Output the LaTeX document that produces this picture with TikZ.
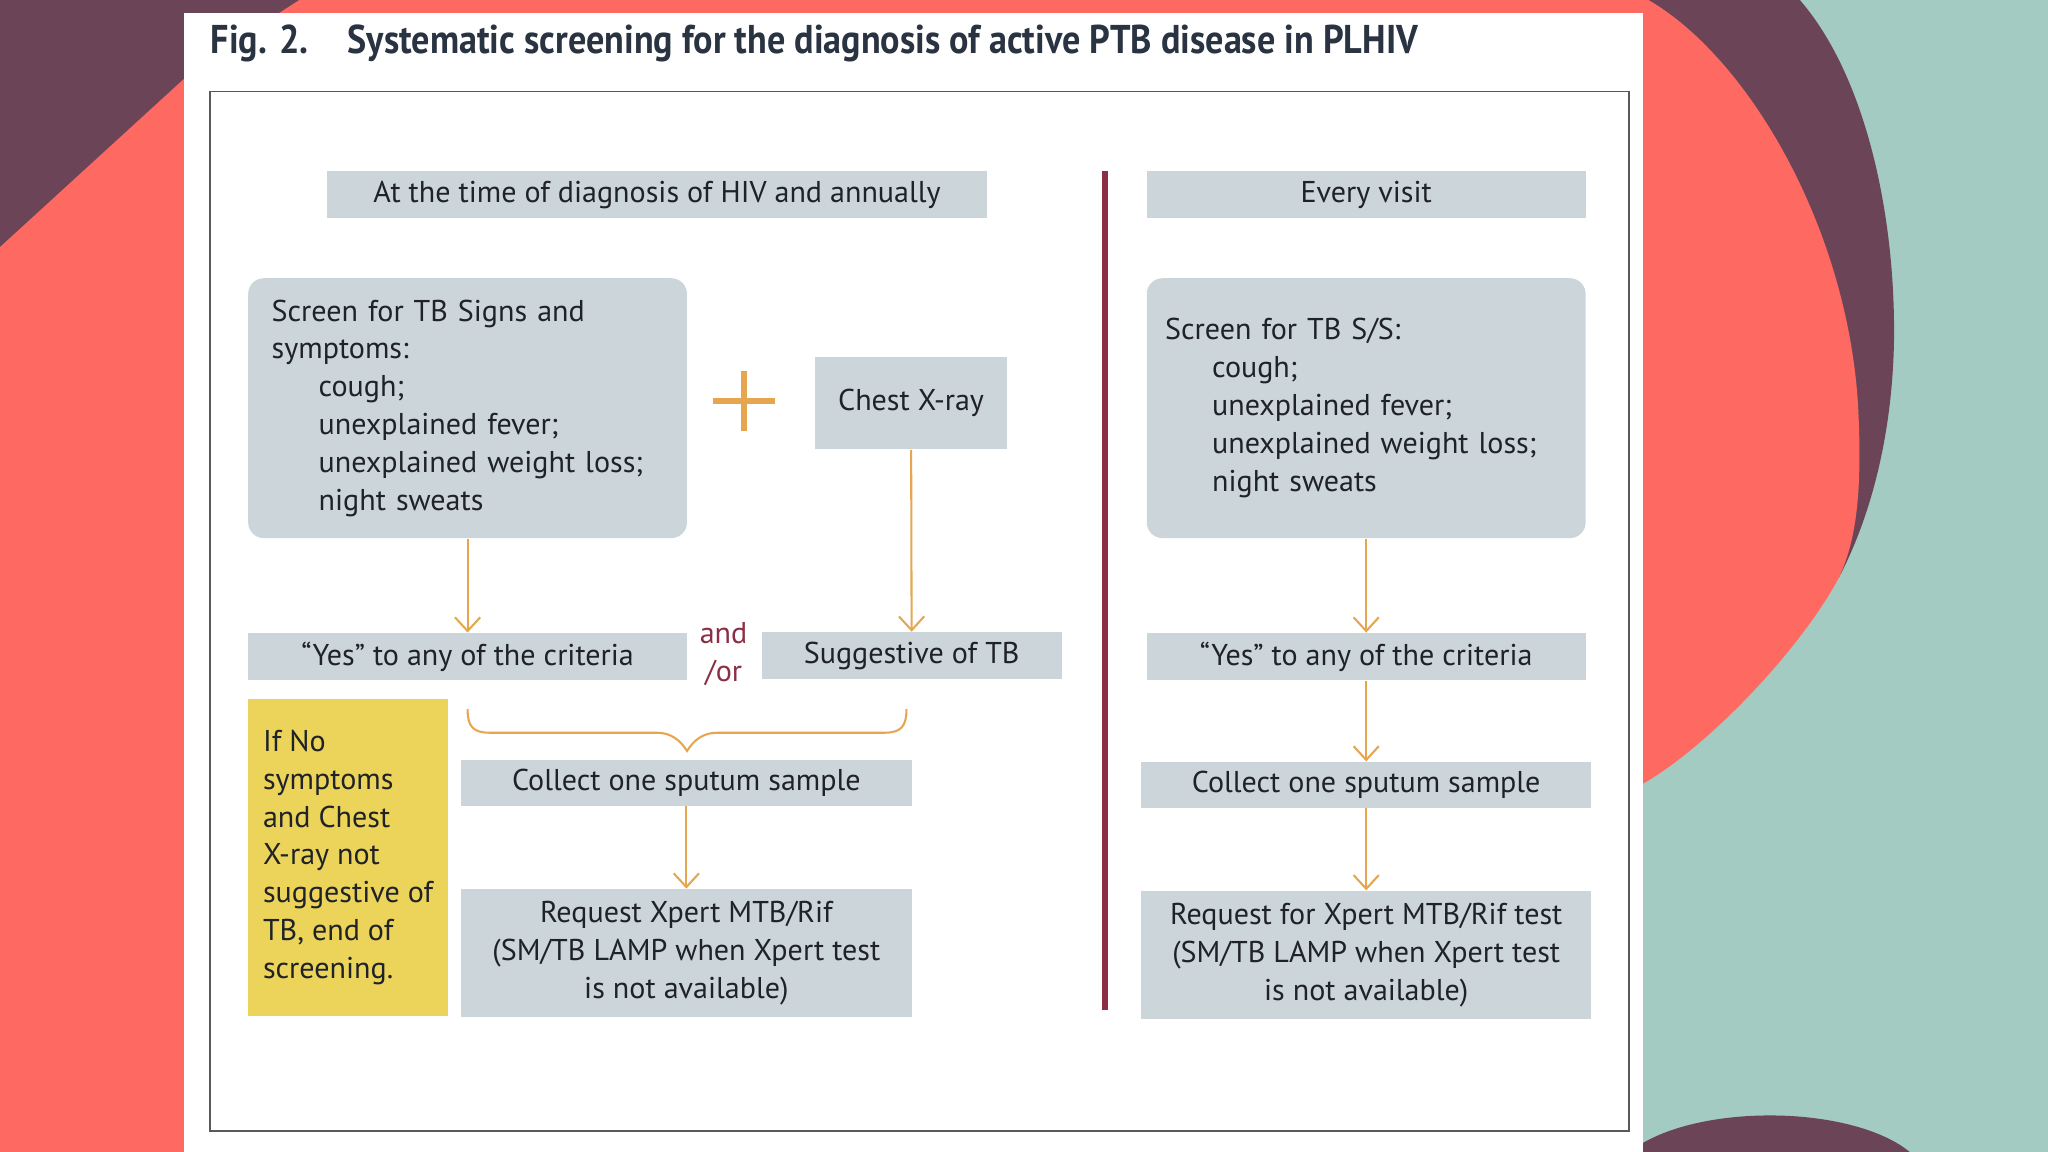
\documentclass[tikz,border=0pt]{standalone}
\usepackage{fontspec}
\setmainfont{PT Sans}
\newfontfamily\titlefont{PT Sans}[FakeStretch=0.9]
\usetikzlibrary{arrows.meta,positioning}

\definecolor{coral}{HTML}{FE6A62}
\definecolor{plum}{HTML}{6B4557}
\definecolor{sage}{HTML}{A4CBC1}
\definecolor{boxgray}{HTML}{CCD5DA}
\definecolor{amber}{HTML}{E6A650}
\definecolor{maroon}{HTML}{8C2F46}
\definecolor{mustard}{HTML}{ECD35A}
\definecolor{ink}{HTML}{1F2328}
\definecolor{navy}{HTML}{2A3342}

\begin{document}
\begin{tikzpicture}[x=0.02cm,y=-0.02cm,
  hdr/.style={fill=boxgray,inner sep=0pt,align=center,text=ink,
    font=\fontsize{13.1}{16.5}\selectfont,minimum height=0.72cm},
  screenbox/.style={hdr,rounded corners=0.24cm,align=left,
    minimum height=3.98cm},
  notebox/.style={hdr,fill=mustard,align=left,minimum width=3.06cm,
    minimum height=4.86cm},
  arr/.style={amber,line width=0.9pt,-{Straight Barb[length=6pt,width=11pt]}},
  node distance=1.44cm]
\useasboundingbox (0,0) rectangle (1568,882);

% background
\fill[sage] (0,0) rectangle (1568,882);
\fill[coral] (0,0) rectangle (1258,882);
\fill[plum] (0,0) -- (229,0) .. controls (190,25) and (160,45) .. (140,61) -- (0,189) -- cycle;
\fill[plum] (1258,0) -- (1378,0) .. controls (1430,60) and (1452,170) .. (1450,265)
  .. controls (1448,340) and (1430,400) .. (1408,442) -- (1258,442) -- cycle;
\fill[coral] (1258,0) -- (1262,0) .. controls (1340,45) and (1418,180) .. (1423,320)
  .. controls (1426,390) and (1418,420) .. (1408,442)
  .. controls (1380,495) and (1310,570) .. (1258,600) -- cycle;
\fill[plum] (1355,905) ellipse [x radius=120, y radius=51];
\fill[white] (141,10) rectangle (1258,882);
\draw[gray!70!black,line width=0.7pt] (161,70) rectangle (1247,866);

\node[anchor=west,inner sep=0pt,text=navy,font=\titlefont\bfseries\fontsize{17.5}{20}\selectfont]
  (title) at (161,33) {Fig. 2.\hspace{0.6cm}Systematic screening for the diagnosis of active PTB disease in PLHIV};

% left column
\node[hdr,minimum width=10.12cm] (annual) at (503,149) {At the time of diagnosis of HIV and annually};
\node[screenbox,text width=6cm,inner xsep=0.36cm] (screenL) at (358,312.5)
  {Screen for TB Signs and\\symptoms:\\
   \hspace*{0.72cm}cough;\\
   \hspace*{0.72cm}unexplained fever;\\
   \hspace*{0.72cm}unexplained weight loss;\\
   \hspace*{0.72cm}night sweats};
\node[hdr,minimum width=2.94cm,minimum height=1.42cm] (xray) at (697.5,308.5) {Chest X-ray};
\node[hdr,minimum width=6.72cm,below=of screenL] (yesL) {``Yes'' to any of the criteria};
\node[hdr,minimum width=4.6cm] (sugg) at (698,502) {Suggestive of TB};
\node[text=maroon,align=center,inner sep=0pt,font=\fontsize{13.1}{16.5}\selectfont]
  (andor) at (554,501) {and\\/or};
\node[notebox] (nosym) at (266.5,656.5)
  {If No\\symptoms\\and Chest\\X-ray not\\suggestive of\\TB, end of\\screening.};
\node[hdr,minimum width=6.9cm,minimum height=0.7cm] (collL) at (525.5,599.5) {Collect one sputum sample};
\node[hdr,minimum width=6.9cm,minimum height=1.96cm,below=1.26cm of collL] (reqL)
  {Request Xpert MTB/Rif\\(SM/TB LAMP when Xpert test\\is not available)};

% plus sign and brace
\draw[amber,line width=2.6pt] (546,307) -- (593,307) (569.5,284) -- (569.5,330);
\draw[amber,line width=0.9pt] (358,543) .. controls (358,556) and (362,561) .. (375,561)
  -- (503,561) .. controls (514,561) and (521,567) .. (526,575)
  .. controls (531,567) and (538,561) .. (549,561) -- (677,561)
  .. controls (690,561) and (694,556) .. (694,543);

% divider
\draw[maroon,line width=2.3pt] (846,131) -- (846,773);

% right column
\node[hdr,minimum width=6.72cm] (every) at (1046,149) {Every visit};
\node[screenbox,text width=6.16cm,inner xsep=0.28cm] (screenR) at (1046,312.5)
  {Screen for TB S/S:\\
   \hspace*{0.72cm}cough;\\
   \hspace*{0.72cm}unexplained fever;\\
   \hspace*{0.72cm}unexplained weight loss;\\
   \hspace*{0.72cm}night sweats};
\node[hdr,minimum width=6.72cm,below=of screenR] (yesR) {``Yes'' to any of the criteria};
\node[hdr,minimum width=6.9cm,minimum height=0.7cm,below=1.24cm of yesR] (collR) {Collect one sputum sample};
\node[hdr,minimum width=6.9cm,minimum height=1.96cm,below=1.26cm of collR] (reqR)
  {Request for Xpert MTB/Rif test\\(SM/TB LAMP when Xpert test\\is not available)};

\draw[arr] (screenL) -- (yesL);
\draw[arr] (xray) -- (sugg);
\draw[arr] (collL) -- (reqL);
\draw[arr] (screenR) -- (yesR);
\draw[arr] (yesR) -- (collR);
\draw[arr] (collR) -- (reqR);
\end{tikzpicture}
\end{document}
